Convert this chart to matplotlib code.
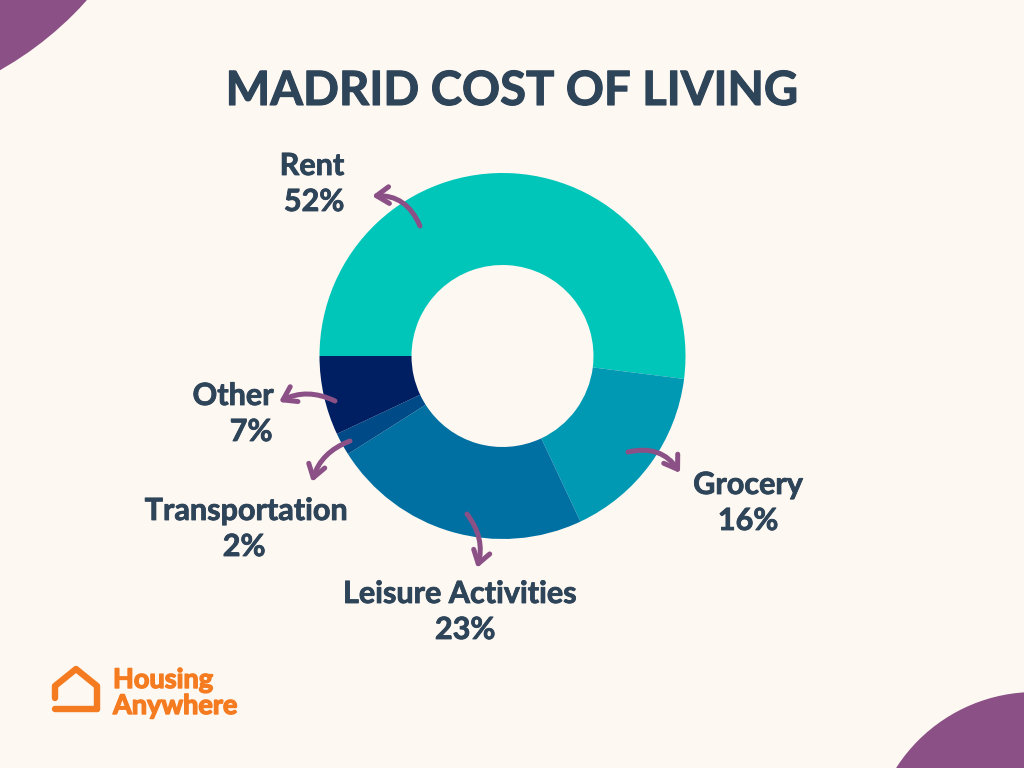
import matplotlib
matplotlib.use("Agg")
import matplotlib.pyplot as plt
import matplotlib.patheffects as pe
from matplotlib.patches import Circle, FancyArrowPatch

labels = ["Rent", "Grocery", "Leisure Activities", "Transportation", "Other"]
values = [52, 16, 23, 2, 7]
colors = ["#00C6BA", "#0099B3", "#0070A3", "#004B87", "#001F63"]

bg = "#FDF8F1"
navy = "#2E4459"
purple = "#8B5086"
orange = "#F47B20"

plt.rcParams['font.family'] = ['Lato', 'DejaVu Sans']

fig = plt.figure(figsize=(10.24, 7.68), dpi=100, facecolor=bg)
ax = fig.add_axes([0, 0, 1, 1])


def Y(y):
	# picture coords have y going down
	return 768 - y


def heavy(txt, col, w=0.6):
	# Lato bold is a bit lighter than the original font
	txt.set_path_effects([pe.withStroke(linewidth=w, foreground=col)])


ax.pie(values, colors=colors, startangle=180, counterclock=False, center=(502.5, Y(356)),
	radius=183, wedgeprops=dict(width=92, linewidth=0), frame=True)
ax.set_xlim(0, 1024)
ax.set_ylim(0, 768)
ax.set_aspect("equal")
ax.axis("off")

# corners
ax.add_patch(Circle((-167, Y(-226)), 340, color=purple, lw=0))
ax.add_patch(Circle((1035, Y(857)), 165, color=purple, lw=0))

t = ax.text(512, Y(91), "MADRID COST OF LIVING", fontsize=34, fontweight="bold", color=navy, ha="center", va="center")
heavy(t, navy, 0.8)

# x of label, x of value, y of label line, y of value line
label_pos = {
	"Rent": (312, 314, 166, 202),
	"Grocery": (748, 748, 485, 521),
	"Leisure Activities": (460, 465, 594, 630),
	"Transportation": (246, 244, 511, 547),
	"Other": (233, 251, 396, 432),
}
for lab, val in zip(labels, values):
	x1, x2, y1, y2 = label_pos[lab]
	t1 = ax.text(x1, Y(y1), lab, fontsize=22, fontweight="bold", color=navy, ha="center", va="center")
	t2 = ax.text(x2, Y(y2), "%d%%" % val, fontsize=22, fontweight="bold", color=navy, ha="center", va="center")
	heavy(t1, navy)
	heavy(t2, navy)

# arrows
arrows = [
	((420, 226), (372, 196), 0.35),
	((628, 452), (680, 473), -0.35),
	((467, 514), (477, 568), -0.25),
	((350, 441), (312, 482), 0.25),
	((335, 401), (279, 402), 0.25),
]
for start, end, rad in arrows:
	ax.add_patch(FancyArrowPatch((start[0], Y(start[1])), (end[0], Y(end[1])),
		connectionstyle="arc3,rad=%.2f" % rad, arrowstyle="->,head_length=9,head_width=6",
		color=purple, lw=3.6, capstyle="round", shrinkA=0, shrinkB=0, zorder=5))

# logo
ax.plot([55, 55, 76, 97, 97], [Y(v) for v in [698, 686, 669, 686, 709]], color=orange, lw=4.6,
	solid_capstyle="round", solid_joinstyle="round")
ax.plot([55, 97], [Y(709), Y(709)], color=orange, lw=4.6, solid_capstyle="round")
t = ax.text(113, Y(680), "Housing", fontsize=19.5, fontweight="bold", color=orange, ha="left", va="center")
heavy(t, orange, 1.0)
t = ax.text(113, Y(706), "Anywhere", fontsize=19.5, fontweight="bold", color=orange, ha="left", va="center")
heavy(t, orange, 1.0)

fig.savefig("out.png", dpi=100, facecolor=bg)
